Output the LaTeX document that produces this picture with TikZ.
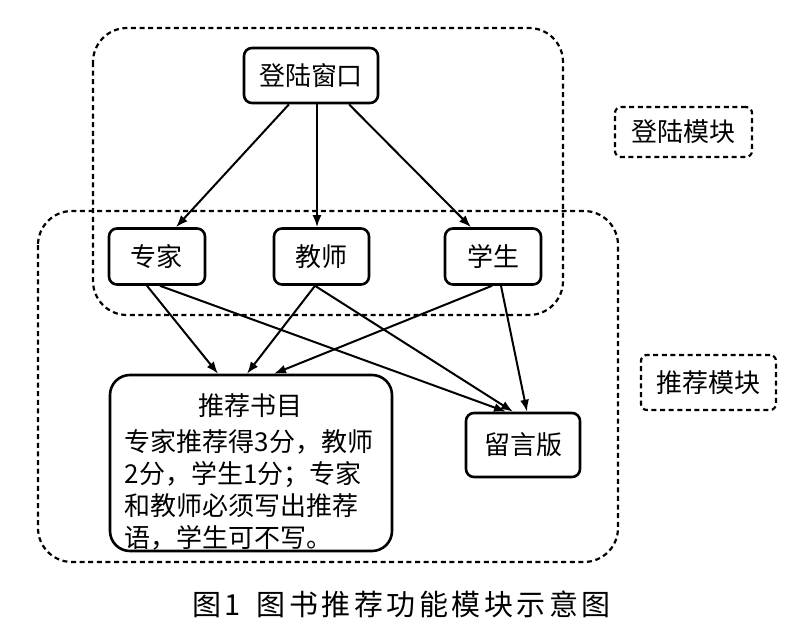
\documentclass[tikz,border=0pt]{standalone}
\usepackage{fontspec}
\setmainfont{Noto Sans CJK SC}
\usetikzlibrary{arrows.meta,calc}

\begin{document}
\begin{tikzpicture}[x=0.5pt,y=-0.5pt,
  every node/.style = {font=\fontsize{13}{16}\selectfont},
  box/.style = {shape=rectangle, draw, line width=1.3pt,
    rounded corners=4pt, inner sep=0pt, minimum height=28pt},
  group/.style = {draw, line width=1.1pt, dash pattern=on 2.5pt off 1.8pt,
    rounded corners=17pt},
  tag/.style = {draw, line width=1.1pt, dash pattern=on 2.5pt off 1.8pt,
    rounded corners=3pt, inner sep=0pt},
  link/.style = {-{Latex[length=6pt,width=4.5pt]}, line width=1pt},
 ]
 \useasboundingbox (0,0) rectangle (800,627);
 % module frames
 \draw[group] (93,28) rectangle (563,315);
 \draw[group] (38,211) rectangle (618,562);
 \node[box, minimum width=67pt, minimum height=27.5pt] (login) at (311,75.5) {登陆窗口};
 \node[box, minimum width=48pt] (expert) at (157,256.5) {专家};
 \node[box, minimum width=47.5pt] (teacher) at (321.5,256.5) {教师};
 \node[box, minimum width=48pt] (student) at (493,256.5) {学生};
 \node[box, rounded corners=10pt, minimum height=88pt, text width=126pt,
   inner xsep=7.5pt, align=left] (books) at (251,463)
   {\makebox[\linewidth]{\rule{0pt}{19.5pt}推荐书目}\\[2pt]专家推荐得3分，教师\\2分，学生1分；专家\\和教师必须写出推荐\\语，学生可不写。};
 \node[box, minimum width=57pt, minimum height=32pt] (board) at (523,445) {留言版};
 \node[tag, minimum width=68.5pt, minimum height=25pt] (logintag) at (683.5,132) {登陆模块};
 \node[tag, minimum width=67.5pt, minimum height=27.5pt] (rectag) at (708.5,382.5) {推荐模块};
 \node[font=\fontsize{14.5}{17}\selectfont\addfontfeature{LetterSpace=12}] (caption) at (401.5,604)
   {图1\hspace{8pt}图书推荐功能模块示意图};
 % arrows
 \foreach \a/\ax/\b/\bx in {login/-22/expert/19, login/6/teacher/-4.5,
   login/38/student/-22, expert/-10/books/-33, expert/3/board/-17,
   teacher/-6.5/books/-4, teacher/-6.5/board/-10, student/-1/books/23,
   student/8/board/4}
   \draw[link] ($(\a.south)+(\ax,0)$) -- ($(\b.north)+(\bx,0)$);
\end{tikzpicture}
\end{document}
